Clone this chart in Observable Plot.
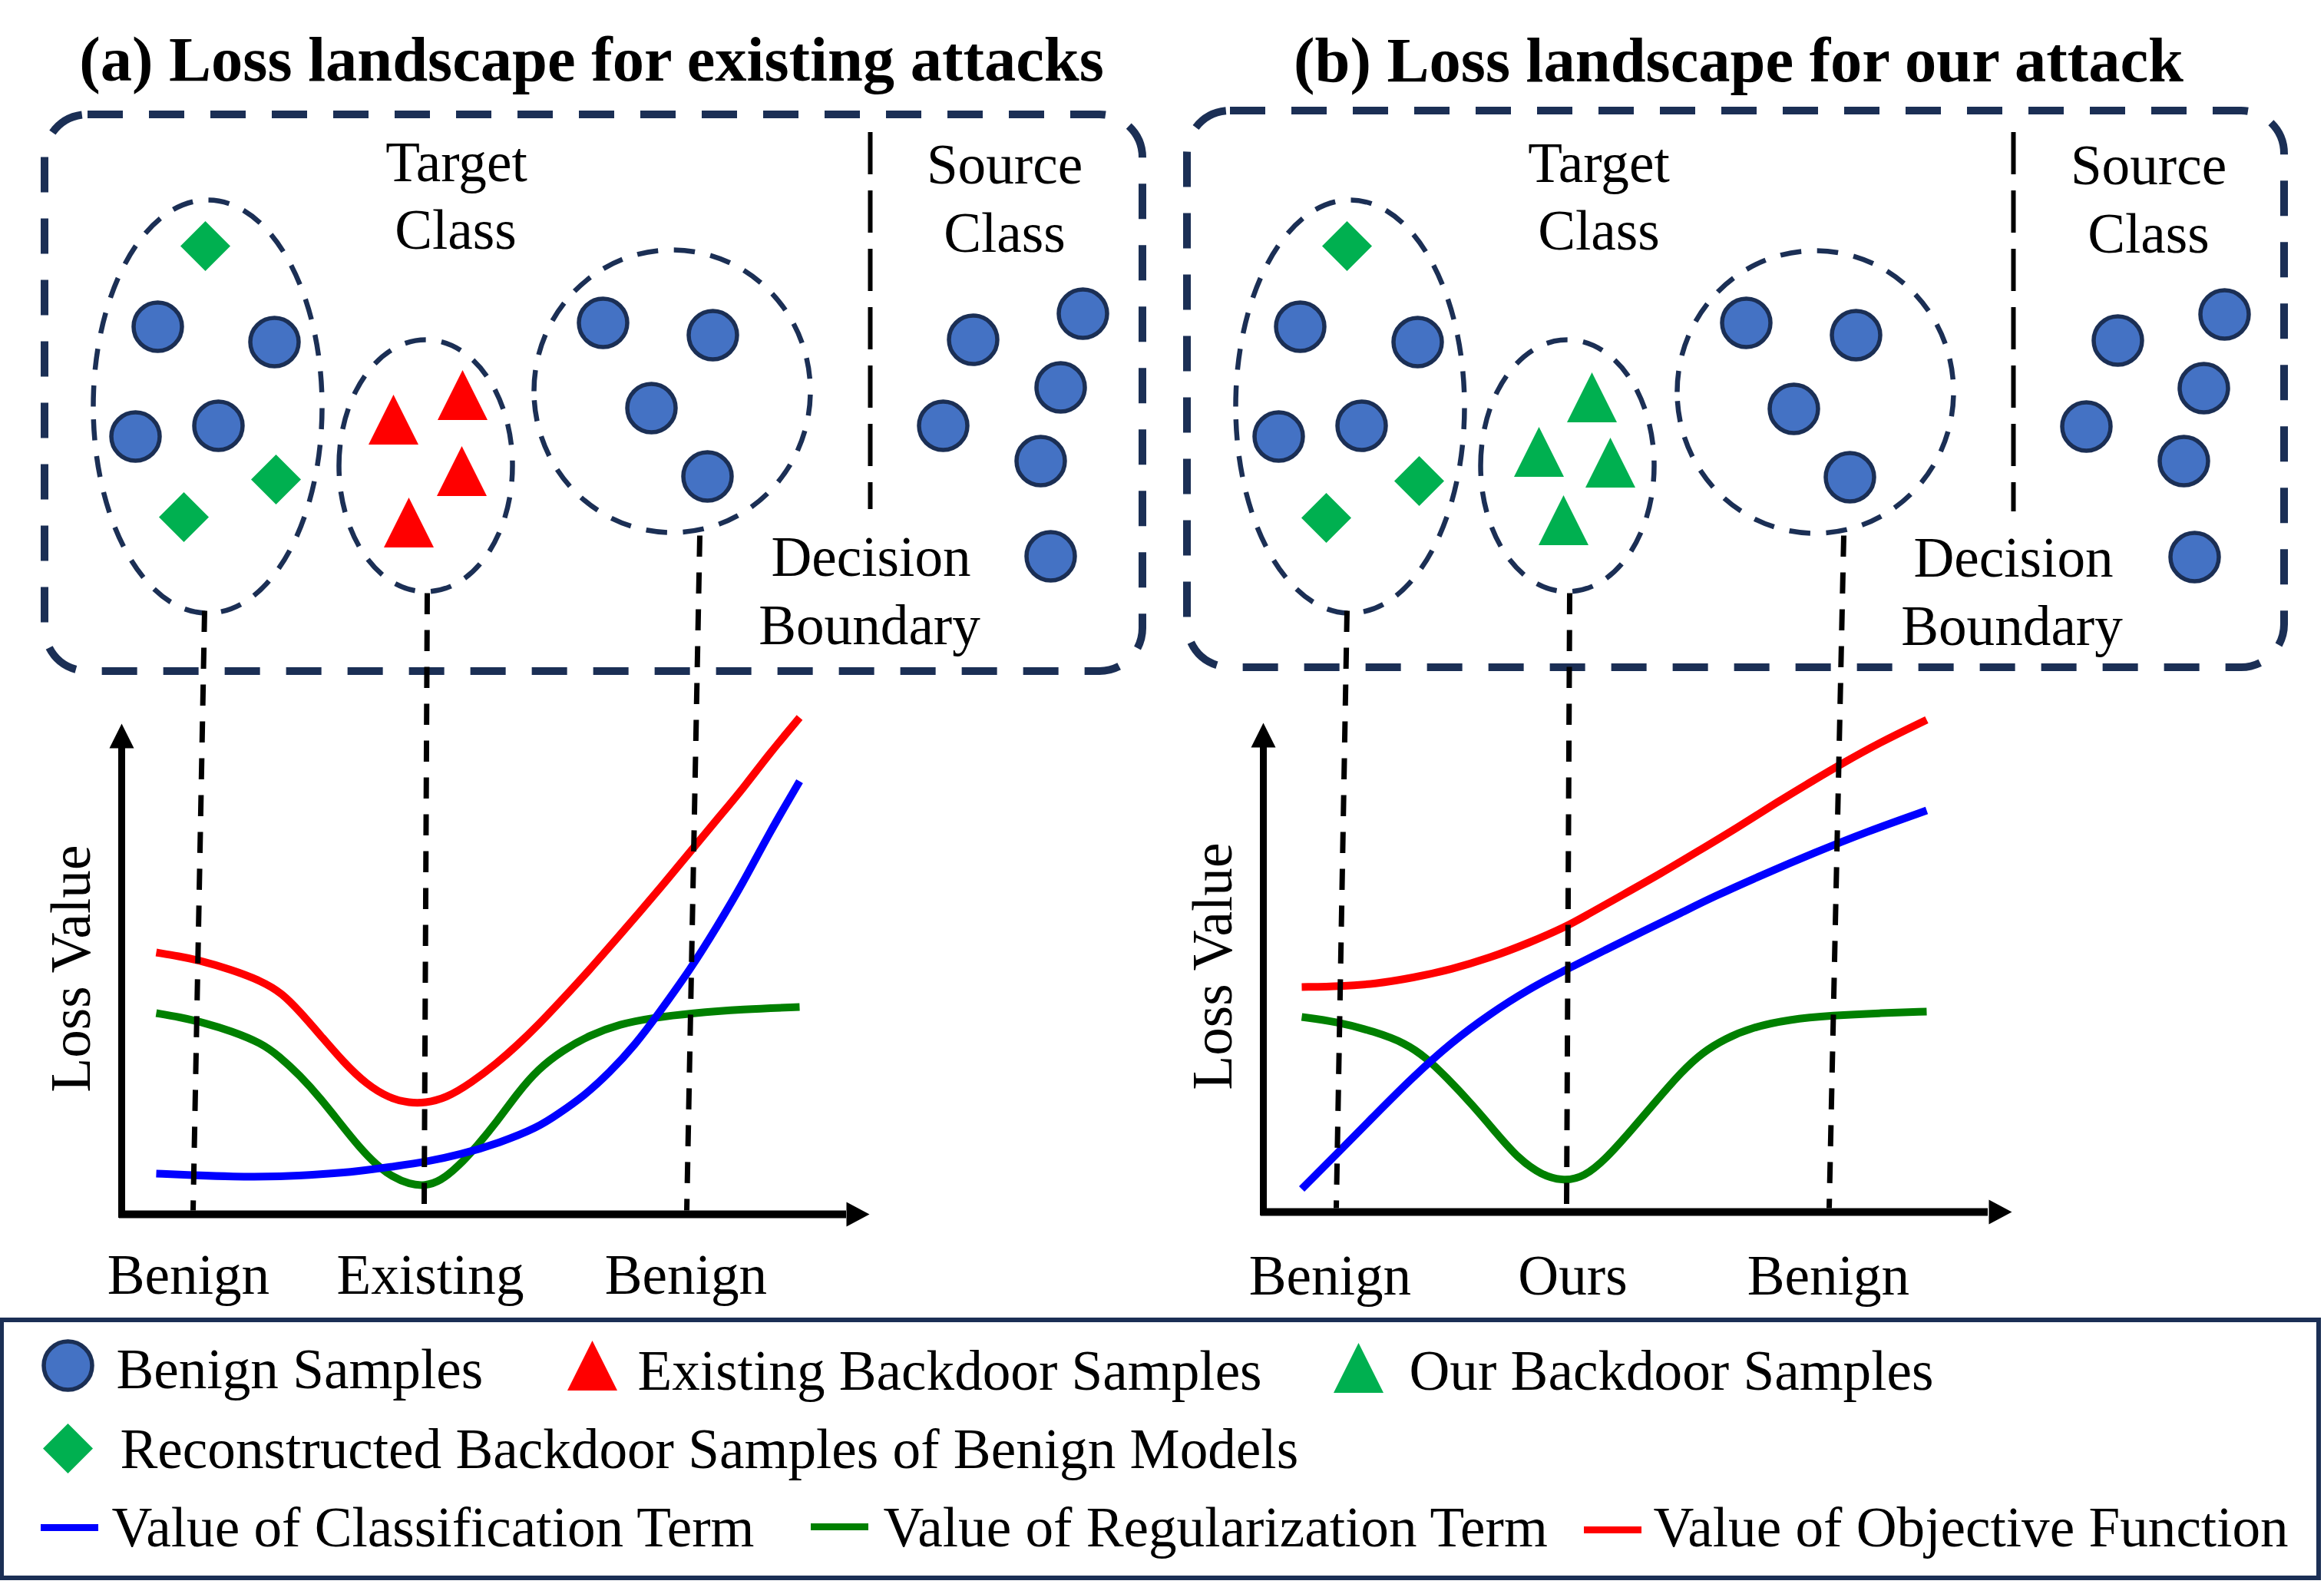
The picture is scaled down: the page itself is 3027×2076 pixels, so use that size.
<!DOCTYPE html>
<html><head><meta charset="utf-8">
<style>html,body{margin:0;padding:0;background:#fff;overflow:hidden}svg{display:block}</style>
<script src="https://cdn.jsdelivr.net/npm/d3@7"></script>
<script src="https://cdn.jsdelivr.net/npm/@observablehq/plot@0.6"></script>
</head><body><div id="chart"></div>
<script>
// ---- curves
const redA = {x:[203,233,258,300,340,367,390,417,447,477,507,533,553,580,613,647,673,700,733,767,800,833,867,900,933,967,1000,1041],
              y:[1240,1245,1250,1262,1277,1293,1317,1348,1383,1412,1430,1436,1436,1430,1410,1384,1361,1335,1300,1263,1225,1187,1147,1107,1067,1027,983,934]};
const greenA = {x:[203,233,267,300,340,363,390,417,443,467,490,510,533,553,573,597,620,647,673,700,733,767,807,850,900,967,1041],
              y:[1319,1324,1332,1342,1358,1375,1400,1430,1463,1493,1517,1532,1542,1544,1538,1518,1493,1460,1424,1392,1367,1348,1333,1325,1319,1314,1311]};
const blueA = {x:[203,250,300,367,417,467,517,553,600,650,700,727,760,793,827,857,900,933,967,1000,1041],
              y:[1528,1530,1532,1532,1529,1525,1518,1513,1503,1488,1468,1450,1427,1397,1360,1320,1260,1207,1150,1087,1017]};
const redB = {x:[1695,1747,1790,1840,1890,1940,1990,2040,2063,2113,2163,2213,2263,2313,2363,2397,2447,2509],
              y:[1285,1284,1281,1273,1262,1247,1228,1206,1193,1165,1137,1107,1077,1045,1015,995,967,937]};
const blueB = {x:[1695,1740,1790,1840,1890,1940,1990,2040,2090,2140,2190,2230,2297,2363,2430,2509],
              y:[1548,1503,1452,1402,1357,1320,1288,1262,1237,1212,1188,1168,1138,1110,1083,1055]};
const greenB = {x:[1695,1740,1790,1830,1857,1883,1917,1950,1977,2007,2037,2063,2090,2123,2157,2190,2217,2247,2280,2330,2387,2447,2509],
              y:[1324,1330,1343,1358,1377,1402,1438,1477,1508,1530,1538,1532,1510,1473,1433,1395,1370,1352,1338,1327,1322,1319,1317]};
// ---- samples
const circleX = [205,357,176,284,785,928,848,921,1267,1410,1381,1228,1355,1368,
                 1693,1846,1665,1773,2274,2417,2336,2409,2758,2897,2870,2717,2844,2858,88];
const circleY = [425,445,568,554,420,436,531,620,442,408,504,554,600,724,
                 425,445,568,554,420,436,532,621,443,409,505,555,600,725,1778];
const diamondX = [267,359,239,1754,1848,1727,88];
const diamondY = [320,624,673,320,626,674,1886];
const redTriX = [512,602,601,532,771];
const redTriY = [546,514,613,680,1778];
const greenTriX = [2073,2004,2097,2036,1769];
const greenTriY = [517,588,602,677,1781];
// ---- regions
const boxX1 = [58,1546]; const boxX2 = [1488,2975]; const boxY1 = [149,144]; const boxY2 = [874,869];
const ellipseBigX = [270,1758];   const ellipseBigY = [529,529];
const ellipseSmallX = [554,2041]; const ellipseSmallY = [606,606];
const ellipseMidX = [875,2364];   const ellipseMidY = [509,510];
const boundaryX = [1133,2622];    const boundaryY1 = [172,172]; const boundaryY2 = [663,666];
const connX1 = [266,556,911,1754,2044,2401];
const connY1 = [795,772,697,795,772,697];
const connX2 = [251,552,894,1740,2040,2382];
const connY2 = [1576,1568,1576,1573,1568,1573];
// ---- axes
const axisYX = [158,1645]; const axisYBottom = [1586,1583]; const axisYTop = [974,973];
const axisXY = [1581,1578]; const axisXLeft = [155,1642]; const axisXRight = [1102,2589];
const arrowUpX = [158,1645]; const arrowUpY = [958,957];
const arrowRightX = [1117,2605]; const arrowRightY = [1581,1578];
// ---- texts
const titleTexts = ["(a) Loss landscape for existing attacks","(b) Loss landscape for our attack"];
const titleX = [770,2264]; const titleY = [104,105];
const labelTexts = ["Target","Class","Source","Class","Decision","Boundary",
                    "Target","Class","Source","Class","Decision","Boundary",
                    "Benign","Existing","Benign","Benign","Ours","Benign"];
const labelX = [594,593,1308,1308,1134,1132,2082,2082,2798,2798,2622,2620,245,560,893,1732,2048,2381];
const labelY = [235,323,238,327,749,838,236,324,239,328,750,839,1684,1684,1684,1685,1685,1685];
const yLabel = ["Loss Value","Loss Value"]; const yLabelX = [116,1603]; const yLabelY = [1261,1258];
const legendTexts = ["Benign Samples","Existing Backdoor Samples","Our Backdoor Samples",
  "Reconstructed Backdoor Samples of Benign Models","Value of Classification Term",
  "Value of Regularization Term","Value of Objective Function"];
const legendX = [151,830,1835,156,145,1150,2153];
const legendY = [1807,1809,1809,1911,2013,2013,2013];
const legendLineX1 = [53,1056,2063]; const legendLineX2 = [128,1131,2138]; const legendLineY = [1989,1988,1992];
const legendLineColor = ["#0000ff","#008000","#ff0000"];

const zip = (o) => { const k = Object.keys(o); return o[k[0]].map((_, i) => Object.fromEntries(k.map(n => [n, o[n][i]]))); };
const serif = "Liberation Serif";
const navy = "#1b2f55";
const poly = (pts) => ({draw(c){ pts.forEach(([x,y],i)=> i? c.lineTo(x,y): c.moveTo(x,y)); c.closePath(); }});
const triangle = poly([[0,-32.5],[32.5,32.5],[-32.5,32.5]]);
const diamond = poly([[0,-32.5],[32.5,0],[0,32.5],[-32.5,0]]);
const arrowUp = poly([[0,-16],[16,16],[-16,16]]);
const arrowRight = poly([[15,0],[-15,-16],[-15,16]]);
const k = 0.5523;
const ellipse = (rx,ry) => ({draw(c){
  c.moveTo(-rx,0);
  c.bezierCurveTo(-rx,-ry*k,-rx*k,-ry,0,-ry);
  c.bezierCurveTo(rx*k,-ry,rx,-ry*k,rx,0);
  c.bezierCurveTo(rx,ry*k,rx*k,ry,0,ry);
  c.bezierCurveTo(-rx*k,ry,-rx,ry*k,-rx,0);
}});
const curve = (s, color) => Plot.line(zip(s), {x:"x", y:"y", stroke:color, strokeWidth:10, curve:"basis", strokeLinecap:"butt"});
const ell = (X,Y,rx,ry) => Plot.dot(zip({x:X,y:Y}), {x:"x",y:"y",symbol:ellipse(rx,ry),fill:"none",stroke:navy,strokeWidth:6.5,strokeDasharray:"27.5 20.5"});

const plot = Plot.plot({
  width:3027, height:2076, margin:0,
  x:{domain:[0,3027], range:[0,3027], axis:null},
  y:{domain:[0,2076], range:[0,2076], axis:null},
  marks:[
    Plot.rect(zip({x1:boxX1,x2:boxX2,y1:boxY1,y2:boxY2}), {x1:"x1",x2:"x2",y1:"y1",y2:"y2",rx:56,fill:"none",stroke:navy,strokeWidth:10,strokeDasharray:"46 34"}),
    Plot.rect([{x1:2,x2:3020,y1:1719,y2:2055}], {x1:"x1",x2:"x2",y1:"y1",y2:"y2",fill:"none",stroke:navy,strokeWidth:6}),
    ell(ellipseBigX,ellipseBigY,149,269),
    ell(ellipseSmallX,ellipseSmallY,113,164),
    ell(ellipseMidX,ellipseMidY,180,184),
    Plot.dot(zip({x:circleX,y:circleY}), {x:"x",y:"y",r:31.5,fill:"#4472C4",stroke:navy,strokeWidth:5.5}),
    Plot.dot(zip({x:diamondX,y:diamondY}), {x:"x",y:"y",symbol:diamond,fill:"#00B050",stroke:"none"}),
    Plot.dot(zip({x:redTriX,y:redTriY}), {x:"x",y:"y",symbol:triangle,fill:"#ff0000",stroke:"none"}),
    Plot.dot(zip({x:greenTriX,y:greenTriY}), {x:"x",y:"y",symbol:triangle,fill:"#00B050",stroke:"none"}),
    curve(greenA,"#008000"), curve(blueA,"#0000ff"), curve(redA,"#ff0000"),
    curve(greenB,"#008000"), curve(blueB,"#0000ff"), curve(redB,"#ff0000"),
    Plot.ruleX(zip({x:boundaryX,y1:boundaryY1,y2:boundaryY2}), {x:"x",y1:"y1",y2:"y2",stroke:"#000",strokeWidth:6,strokeDasharray:"55 21"}),
    Plot.link(zip({x1:connX1,y1:connY1,x2:connX2,y2:connY2}), {x1:"x1",y1:"y1",x2:"x2",y2:"y2",stroke:"#000",strokeWidth:7,strokeDasharray:"27.5 20.5"}),
    Plot.ruleX(zip({x:axisYX,y1:axisYBottom,y2:axisYTop}), {x:"x",y1:"y1",y2:"y2",stroke:"#000",strokeWidth:9}),
    Plot.ruleY(zip({y:axisXY,x1:axisXLeft,x2:axisXRight}), {y:"y",x1:"x1",x2:"x2",stroke:"#000",strokeWidth:10}),
    Plot.dot(zip({x:arrowUpX,y:arrowUpY}), {x:"x",y:"y",symbol:arrowUp,fill:"#000",stroke:"none"}),
    Plot.dot(zip({x:arrowRightX,y:arrowRightY}), {x:"x",y:"y",symbol:arrowRight,fill:"#000",stroke:"none"}),
    Plot.ruleY(zip({y:legendLineY,x1:legendLineX1,x2:legendLineX2,c:legendLineColor}), {y:"y",x1:"x1",x2:"x2",stroke:"c",strokeWidth:9}),
    Plot.text(zip({t:titleTexts,x:titleX,y:titleY}), {x:"x",y:"y",text:"t",fontFamily:serif,fontWeight:"bold",fontSize:82.5,lineAnchor:"bottom",textAnchor:"middle",fill:"#000"}),
    Plot.text(zip({t:labelTexts,x:labelX,y:labelY}), {x:"x",y:"y",text:"t",fontFamily:serif,fontSize:73.2,lineAnchor:"bottom",textAnchor:"middle",fill:"#000"}),
    Plot.text(zip({t:yLabel,x:yLabelX,y:yLabelY}), {x:"x",y:"y",text:"t",rotate:-90,fontFamily:serif,fontSize:73.2,lineAnchor:"bottom",textAnchor:"middle",fill:"#000"}),
    Plot.text(zip({t:legendTexts,x:legendX,y:legendY}), {x:"x",y:"y",text:"t",fontFamily:serif,fontSize:73.2,lineAnchor:"bottom",textAnchor:"start",fill:"#000"}),
  ]
});
document.getElementById("chart").append(plot);
</script></body></html>
